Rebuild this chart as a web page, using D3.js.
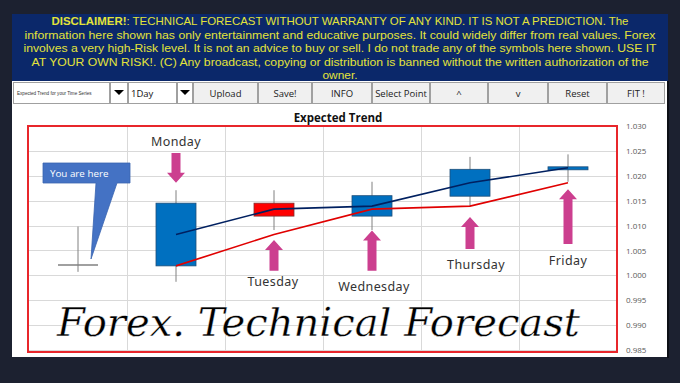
<!DOCTYPE html>
<html><head><meta charset="utf-8">
<script src="https://cdn.jsdelivr.net/npm/d3@7"></script>
<style>html,body{margin:0;padding:0;background:#1c2130;}svg{display:block;}</style>
</head><body>
<script>
// ---------- data ----------
const categories = ["Now", "Monday", "Tuesday", "Wednesday", "Thursday", "Friday"];
const openVals  = [1.0021, 1.0019, 1.0145, 1.0119, 1.0159, 1.0212];
const closeVals = [1.0021, 1.0145, 1.0119, 1.0160, 1.0213, 1.0218];
const highVals  = [1.0098, 1.0171, 1.0171, 1.0188, 1.0238, 1.0243];
const lowVals   = [1.0007, 0.9987, 1.0091, 1.0091, 1.0139, 1.0188];
const trendNavy = [null, 1.0082, 1.0133, 1.0139, 1.0186, 1.0216];
const trendRed  = [null, 1.0019, 1.0082, 1.0133, 1.0139, 1.0186];
const arrowFrom = [null, 1.0246, 1.0009, 1.0009, 1.0053, 1.0063];
const arrowTo   = [null, 1.0186, 1.0071, 1.0090, 1.0117, 1.0173];
const dayLabelAt = [null, 1.0268, 0.9987, 0.9977, 1.0021, 1.0029];
const yTicks = [0.985, 0.990, 0.995, 1.000, 1.005, 1.010, 1.015, 1.020, 1.025, 1.030];
const disclaimerLines = [
  "TECHNICAL FORECAST WITHOUT WARRANTY OF ANY KIND. IT IS NOT A PREDICTION.  The",
  "information here shown has only entertainment and educative purposes. It could widely differ from real values. Forex",
  "involves a very high-Risk level.  It is not an advice to buy or sell. I do not trade any of the symbols here shown. USE IT",
  "AT YOUR OWN RISK!. (C) Any broadcast, copying or distribution is banned without the written authorization of the",
  "owner."
];
const toolbarLabels = ["Expected Trend for your Time Series", "", "1Day", "", "Upload", "Save!", "INFO", "Select Point", "^", "v", "Reset", "FIT !"];
const chartTitle = "Expected Trend";
const bigTitle = "Forex. Technical Forecast";
const calloutText = "You are here";

// ---------- layout ----------
const W = 680, H = 383;
const svg = d3.select("body").append("svg").attr("width", W).attr("height", H);
svg.append("rect").attr("width", W).attr("height", H).attr("fill", "#1c2130");

// banner
svg.append("rect").attr("x", 12).attr("y", 14).attr("width", 656).attr("height", 68).attr("fill", "#0b286a");
const lineY = [24.5, 38.5, 52, 65.5, 79];
const lineW = [577, 631, 633, 617, 35];
disclaimerLines.forEach((t, i) => {
  const tx = svg.append("text").attr("x", 340).attr("y", lineY[i]).attr("text-anchor", "middle")
    .attr("font-family", "Liberation Sans Narrow, Liberation Sans, Arial, sans-serif").attr("font-size", 11)
    .attr("fill", "#e3e33a").attr("textLength", lineW[i]).attr("lengthAdjust", "spacingAndGlyphs");
  if (i === 0) {
    tx.append("tspan").attr("font-weight", "bold").text("DISCLAIMER!");
    tx.append("tspan").text(": " + t);
  } else tx.text(t);
});

// white panel
svg.append("rect").attr("x", 12).attr("y", 81).attr("width", 655).attr("height", 276).attr("fill", "#ffffff");
svg.append("rect").attr("x", 667).attr("y", 81).attr("width", 2).attr("height", 277).attr("fill", "#0d0f16");

// toolbar
const tbX = [13, 110, 128, 177, 193, 258, 312, 372, 430, 488, 548, 607, 665];
const tb = svg.append("g");
toolbarLabels.forEach((lab, i) => {
  const x0 = tbX[i], w = tbX[i + 1] - x0;
  const isField = i < 4;
  tb.append("rect").attr("x", x0 + 0.5).attr("y", 82.5).attr("width", w - 1).attr("height", 21)
    .attr("fill", isField ? "#ffffff" : "#f0f0f0").attr("stroke", "#a0a0a0").attr("stroke-width", 1);
  if (i === 1 || i === 3) {
    const cx = x0 + w / 2;
    tb.append("path").attr("d", `M${cx - 5},${90} L${cx + 5},${90} L${cx},${95} Z`).attr("fill", "#000");
  } else if (i === 0) {
    tb.append("text").attr("x", x0 + 4).attr("y", 95).attr("font-family", "Liberation Sans, sans-serif")
      .attr("font-size", 4.6).attr("fill", "#333").text(lab);
  } else if (i === 2) {
    tb.append("text").attr("x", x0 + 3).attr("y", 96.5).attr("font-family", "Open Sans, sans-serif")
      .attr("font-size", 9.5).attr("fill", "#111").text(lab);
  } else {
    tb.append("text").attr("x", x0 + w / 2).attr("y", 96.5).attr("text-anchor", "middle")
      .attr("font-family", "Open Sans, sans-serif").attr("font-size", 9.5).attr("fill", "#222").text(lab);
  }
});

// scales
const x = d3.scaleBand().domain(categories).range([29, 617]).paddingInner(0).paddingOuter(0);
const y = d3.scaleLinear().domain([0.985, 1.030]).range([350, 126]);
const bw = x.bandwidth();
const cx = (i) => x(categories[i]) + bw / 2;

// grid
const grid = svg.append("g");
grid.selectAll("line.h").data(yTicks).join("line")
  .attr("x1", 29).attr("x2", 617).attr("y1", d => Math.round(y(d)) + 0.5).attr("y2", d => Math.round(y(d)) + 0.5)
  .attr("stroke", "#d9d9d9").attr("stroke-width", 1);
grid.selectAll("line.v").data(categories.slice(1)).join("line")
  .attr("x1", d => Math.round(x(d)) + 0.5).attr("x2", d => Math.round(x(d)) + 0.5)
  .attr("y1", 126).attr("y2", 350).attr("stroke", "#d9d9d9").attr("stroke-width", 1);

// y axis (right)
const ax = svg.append("g").attr("transform", "translate(622,0)")
  .call(d3.axisRight(y).tickValues(yTicks).tickFormat(d3.format(".3f")).tickSize(0).tickPadding(4));
ax.select(".domain").remove();
ax.selectAll("text").attr("font-family", "Open Sans, sans-serif").attr("font-size", 8).attr("fill", "#595959");

// chart title
svg.append("text").attr("x", 338).attr("y", 122).attr("text-anchor", "middle")
  .attr("font-family", "Open Sans, sans-serif").attr("font-weight", "bold").attr("font-size", 11.5)
  .attr("fill", "#111").text(chartTitle);

// candles
const cw = 40;
const candles = svg.append("g");
categories.forEach((c, i) => {
  const xc = cx(i);
  candles.append("line").attr("x1", xc).attr("x2", xc).attr("y1", y(highVals[i])).attr("y2", y(lowVals[i]))
    .attr("stroke", "#808080").attr("stroke-width", 1);
  const o = openVals[i], cl = closeVals[i];
  if (o === cl) {
    candles.append("line").attr("x1", xc - cw / 2).attr("x2", xc + cw / 2).attr("y1", y(o)).attr("y2", y(o))
      .attr("stroke", "#808080").attr("stroke-width", 1.5);
  } else {
    const up = cl > o;
    candles.append("rect").attr("x", xc - cw / 2).attr("width", cw)
      .attr("y", y(Math.max(o, cl))).attr("height", Math.max(1.5, Math.abs(y(o) - y(cl))))
      .attr("fill", up ? "#0070c0" : "#ff0000").attr("stroke", up ? "#1f4e79" : "#7f3030").attr("stroke-width", 0.8);
  }
});

// trend lines
const lineGen = d3.line().defined(d => d.v != null).x(d => cx(d.i)).y(d => y(d.v));
svg.append("path").datum(trendRed.map((v, i) => ({ v, i }))).attr("d", lineGen)
  .attr("fill", "none").attr("stroke", "#e00000").attr("stroke-width", 1.6);
svg.append("path").datum(trendNavy.map((v, i) => ({ v, i }))).attr("d", lineGen)
  .attr("fill", "none").attr("stroke", "#002060").attr("stroke-width", 1.6);

// arrows
const arrows = svg.append("g");
categories.forEach((c, i) => {
  if (arrowFrom[i] == null) return;
  const xc = cx(i), y0 = y(arrowFrom[i]), y1 = y(arrowTo[i]);
  const dir = y1 > y0 ? 1 : -1;
  const head = 10, sw = 4.5, hw = 9;
  const yh = y1 - dir * head;
  const d = `M${xc - sw},${y0} L${xc - sw},${yh} L${xc - hw},${yh} L${xc},${y1} L${xc + hw},${yh} L${xc + sw},${yh} L${xc + sw},${y0} Z`;
  arrows.append("path").attr("d", d).attr("fill", "#cc3f8f");
});

// day labels
const labelDx = [0, 0, -1, 2, 6, 0];
categories.forEach((c, i) => {
  if (dayLabelAt[i] == null) return;
  svg.append("text").attr("x", cx(i) + labelDx[i]).attr("y", y(dayLabelAt[i]))
    .attr("dominant-baseline", "central").attr("text-anchor", "middle")
    .attr("font-family", "Noto Sans, Open Sans, sans-serif").attr("font-size", 12.5)
    .attr("letter-spacing", 0.4).attr("fill", "#333").text(c);
});

// callout
const c0 = cx(0);
svg.append("path")
  .attr("d", `M${c0 - 35},163 L${c0 + 52},163 L${c0 + 52},183 L${c0 + 39},183 L${c0 + 13},259 L${c0 + 18},183 L${c0 - 35},183 Z`)
  .attr("fill", "#4472c4").attr("stroke", "#3a64b0").attr("stroke-width", 0.8);
svg.append("text").attr("x", c0 - 28).attr("y", 177).attr("font-family", "Open Sans, sans-serif")
  .attr("font-size", 9.8).attr("fill", "#ffffff").text(calloutText);

// big title
svg.append("text").attr("x", 57).attr("y", 336).attr("font-family", "DejaVu Serif, serif")
  .attr("font-style", "italic").attr("font-size", 39).attr("fill", "#000")
  .attr("stroke", "#ffffff").attr("stroke-width", 0.35)
  .attr("textLength", 523).attr("lengthAdjust", "spacingAndGlyphs").text(bigTitle);

// red frame
svg.append("rect").attr("x", 28).attr("y", 126).attr("width", 589).attr("height", 226)
  .attr("fill", "none").attr("stroke", "#e8262b").attr("stroke-width", 2);
</script>
</body></html>
